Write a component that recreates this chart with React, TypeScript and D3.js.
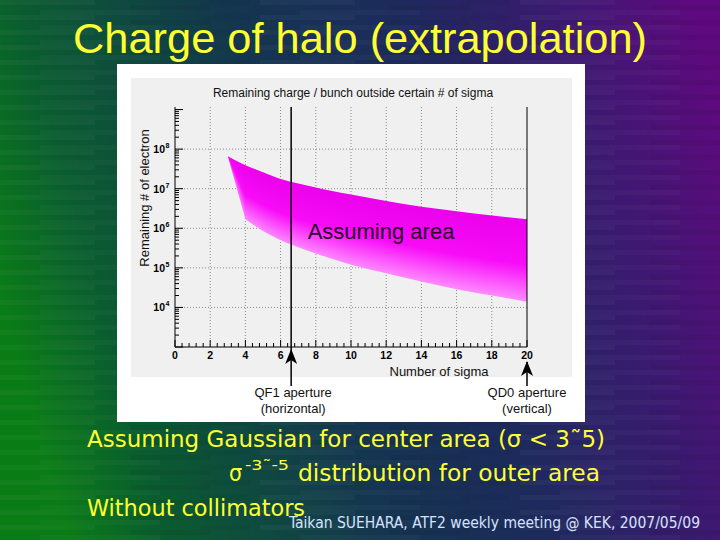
import React from 'react';
import * as d3 from 'd3';

// ---- data ----
const xTicks = [0, 2, 4, 6, 8, 10, 12, 14, 16, 18, 20];
const yDecades = [4, 5, 6, 7, 8];
const sigmaUpper = [3, 4, 5, 6, 7, 8, 9, 10, 12, 14, 16, 18, 20];
const chargeUpper = [6.6e7, 3.9e7, 2.6e7, 1.75e7, 1.35e7, 1.08e7, 8.6e6, 7.1e6, 4.9e6, 3.5e6, 2.7e6, 2.1e6, 1.7e6];
const sigmaLower = [4, 5, 6, 7, 8, 10, 12, 14, 16, 18, 20];
const chargeLower = [1.7e6, 8.5e5, 5.0e5, 3.3e5, 2.3e5, 1.2e5, 7.3e4, 4.5e4, 2.9e4, 2.0e4, 1.4e4];
const qf1Sigma = 6.6;
const qd0Sigma = 20;

const FONT = '"Liberation Sans", Arial, Helvetica, sans-serif';
const JFONT = '"Liberation Sans Narrow", "DejaVu Sans Condensed", Roboto, sans-serif';

function interp(pts: number[][], px: number) {
  if (px <= pts[0][0]) return pts[0][1];
  for (let i = 1; i < pts.length; i++) {
    if (px <= pts[i][0]) {
      const t = (px - pts[i - 1][0]) / (pts[i][0] - pts[i - 1][0]);
      return pts[i - 1][1] + t * (pts[i][1] - pts[i - 1][1]);
    }
  }
  return pts[pts.length - 1][1];
}

export default function App() {
  const W = 720, H = 540;
  const x = d3.scaleLinear().domain([0, 20]).range([175, 527]);
  const y = d3.scaleLog().domain([1e3, 1.16e9]).range([347, 107]);
  const top = 107, bottom = 347;

  const upPts = sigmaUpper.map((s, i) => [x(s), y(chargeUpper[i])]);
  const lowPts = sigmaLower.map((s, i) => [x(s), y(chargeLower[i])]);
  const line = d3.line().curve(d3.curveMonotoneX);
  const upPath = line(upPts as any) as string;
  const lowRev = line([...lowPts].reverse() as any) as string;
  const bandPath = upPath + 'L' + lowRev.slice(1) + 'Z';
  const botPts = [upPts[0], ...lowPts];

  const strips: { x: number; t: number; b: number }[] = [];
  for (let px = Math.floor(x(sigmaUpper[0])); px < Math.ceil(x(20)); px++) {
    const t = interp(upPts, px + 0.5) - 3;
    const b = interp(botPts, px + 0.5) + 3;
    strips.push({ x: px, t, b });
  }

  const yMinor: number[] = [];
  for (let e = 3; e <= 9; e++) {
    for (let m = 2; m <= 9; m++) {
      const v = m * Math.pow(10, e);
      if (v > 1e3 && v < 1.16e9) yMinor.push(v);
    }
  }
  const yMajor = [3, 4, 5, 6, 7, 8, 9].map((e) => Math.pow(10, e)).filter((v) => v >= 1e3 && v <= 1.16e9);
  const xMinor = d3.range(0, 20.001, 0.4).filter((v) => Math.abs(v / 2 - Math.round(v / 2)) > 1e-6);

  const arrow = (sx: number, tipY: number) =>
    `M${sx},${tipY} L${sx - 6},${tipY + 15} L${sx},${tipY + 11} L${sx + 6},${tipY + 15} Z`;

  return (
    <svg width={W} height={H} style={{ position: 'absolute', left: 0, top: 0 }} xmlns="http://www.w3.org/2000/svg">
      <defs>
        <linearGradient id="bg" gradientUnits="userSpaceOnUse" x1={0} y1={300} x2={720} y2={100}>
          <stop offset="0" stopColor="#0a7c16" />
          <stop offset="0.13" stopColor="#0a5c30" />
          <stop offset="0.4" stopColor="#14364f" />
          <stop offset="0.62" stopColor="#1d2a5c" />
          <stop offset="0.82" stopColor="#3a1a70" />
          <stop offset="1" stopColor="#5e0a7e" />
        </linearGradient>
        <pattern id="streaks" patternUnits="userSpaceOnUse" width={260} height={15}>
          <rect x={0} y={0} width={95} height={5} fill="#ffffff" opacity={0.03} />
          <rect x={130} y={5} width={80} height={5} fill="#000000" opacity={0.05} />
          <rect x={40} y={10} width={120} height={5} fill="#ffffff" opacity={0.025} />
          <rect x={200} y={0} width={50} height={5} fill="#000000" opacity={0.04} />
        </pattern>
        <linearGradient id="band" x1="0" y1="0" x2="0" y2="1">
          <stop offset="0" stopColor="#ea00ea" />
          <stop offset="0.55" stopColor="#f80cf8" />
          <stop offset="1" stopColor="#ff94ff" />
        </linearGradient>
        <clipPath id="bandClip">
          <path d={bandPath} />
        </clipPath>
      </defs>

      <rect x={0} y={0} width={W} height={H} fill="url(#bg)" />
      <rect x={0} y={0} width={W} height={H} fill="url(#streaks)" />

      <text x={360} y={53} textAnchor="middle" fontFamily={FONT} fontSize={42} fill="#ffff33" textLength={574} lengthAdjust="spacingAndGlyphs">
        Charge of halo (extrapolation)
      </text>

      <rect x={117} y={64} width={468} height={358} fill="#ffffff" />
      <rect x={131} y={78} width={441} height={299} fill="#f0f0f0" />

      <text x={353} y={97} textAnchor="middle" fontFamily={FONT} fontSize={12} fill="#111">
        Remaining charge / bunch outside certain # of sigma
      </text>

      <g stroke="#8a8a8a" strokeWidth={1} strokeDasharray="1,2">
        {xTicks.filter((v) => v > 0 && v < 20).map((v) => (
          <line key={'gx' + v} x1={x(v)} x2={x(v)} y1={top} y2={bottom} />
        ))}
        {yDecades.map((e) => (
          <line key={'gy' + e} x1={x(0)} x2={x(20)} y1={y(Math.pow(10, e))} y2={y(Math.pow(10, e))} />
        ))}
      </g>

      <g clipPath="url(#bandClip)">
        {strips.map((s) => (
          <rect key={s.x} x={s.x} y={s.t} width={1.05} height={s.b - s.t} fill="url(#band)" />
        ))}
      </g>

      <text x={381} y={239} textAnchor="middle" fontFamily={FONT} fontSize={22} fill="#2a002a">
        Assuming area
      </text>

      <g stroke="#000" strokeWidth={1} fill="none">
        <line x1={x(0)} x2={x(0)} y1={top} y2={bottom} />
        <line x1={x(0)} x2={x(20)} y1={bottom} y2={bottom} />
        <line x1={x(20)} x2={x(20)} y1={top} y2={bottom} />
      </g>

      <g stroke="#000" strokeWidth={1}>
        {yMajor.map((v) => (
          <line key={'ym' + v} x1={x(0)} x2={x(0) + 8} y1={y(v)} y2={y(v)} />
        ))}
        {yMinor.map((v) => (
          <line key={'yn' + v} x1={x(0)} x2={x(0) + 4} y1={y(v)} y2={y(v)} />
        ))}
        {xTicks.map((v) => (
          <line key={'xm' + v} x1={x(v)} x2={x(v)} y1={bottom} y2={bottom - 7} />
        ))}
        {xMinor.map((v) => (
          <line key={'xn' + v} x1={x(v)} x2={x(v)} y1={bottom} y2={bottom - 4} />
        ))}
      </g>

      <g fontFamily={FONT} fontSize={10.5} fontWeight="bold" fill="#000">
        {xTicks.map((v) => (
          <text key={'xl' + v} x={x(v)} y={359} textAnchor="middle">{v}</text>
        ))}
        {yDecades.map((e) => (
          <text key={'yl' + e} x={165} y={y(Math.pow(10, e)) + 4} textAnchor="end">
            10
          </text>
        ))}
        {yDecades.map((e) => (
          <text key={'ye' + e} x={165.5} y={y(Math.pow(10, e)) - 1} fontSize={7}>
            {e}
          </text>
        ))}
      </g>

      <text transform="translate(149,198) rotate(-90)" textAnchor="middle" fontFamily={FONT} fontSize={13} fill="#111">
        Remaining # of electron
      </text>
      <text x={439} y={376} textAnchor="middle" fontFamily={FONT} fontSize={13} fill="#111">
        Number of sigma
      </text>

      <line x1={x(qf1Sigma)} x2={x(qf1Sigma)} y1={top} y2={386} stroke="#000" strokeWidth={1.5} />
      <path d={arrow(x(qf1Sigma), 349)} fill="#000" />
      <line x1={x(qd0Sigma)} x2={x(qd0Sigma)} y1={362} y2={386} stroke="#000" strokeWidth={1.5} />
      <path d={arrow(x(qd0Sigma), 361)} fill="#000" />

      <g fontFamily={FONT} fontSize={13} fill="#111" textAnchor="middle">
        <text x={x(qf1Sigma) + 2} y={397}>QF1 aperture</text>
        <text x={x(qf1Sigma) + 2} y={413}>(horizontal)</text>
        <text x={x(qd0Sigma)} y={397}>QD0 aperture</text>
        <text x={x(qd0Sigma)} y={413}>(vertical)</text>
      </g>

      <g fontFamily={JFONT} fill="#ffff33">
        <text x={87} y={447} fontSize={23} textLength={518} lengthAdjust="spacingAndGlyphs">
          Assuming Gaussian for center area (σ &lt; 3˜5)
        </text>
        <text x={229} y={481} fontSize={23}>σ</text>
        <text x={245} y={470} fontSize={14} textLength={44} lengthAdjust="spacingAndGlyphs">-3˜-5</text>
        <text x={298} y={481} fontSize={23} textLength={302} lengthAdjust="spacingAndGlyphs">
          distribution for outer area
        </text>
        <text x={87} y={516} fontSize={23} textLength={218} lengthAdjust="spacingAndGlyphs">
          Without collimators
        </text>
      </g>
      <text x={289} y={528} fontFamily={JFONT} fontSize={15} fill="#d6e2ff" textLength={411} lengthAdjust="spacingAndGlyphs">
        Taikan  SUEHARA, ATF2 weekly meeting @ KEK, 2007/05/09
      </text>
    </svg>
  );
}
